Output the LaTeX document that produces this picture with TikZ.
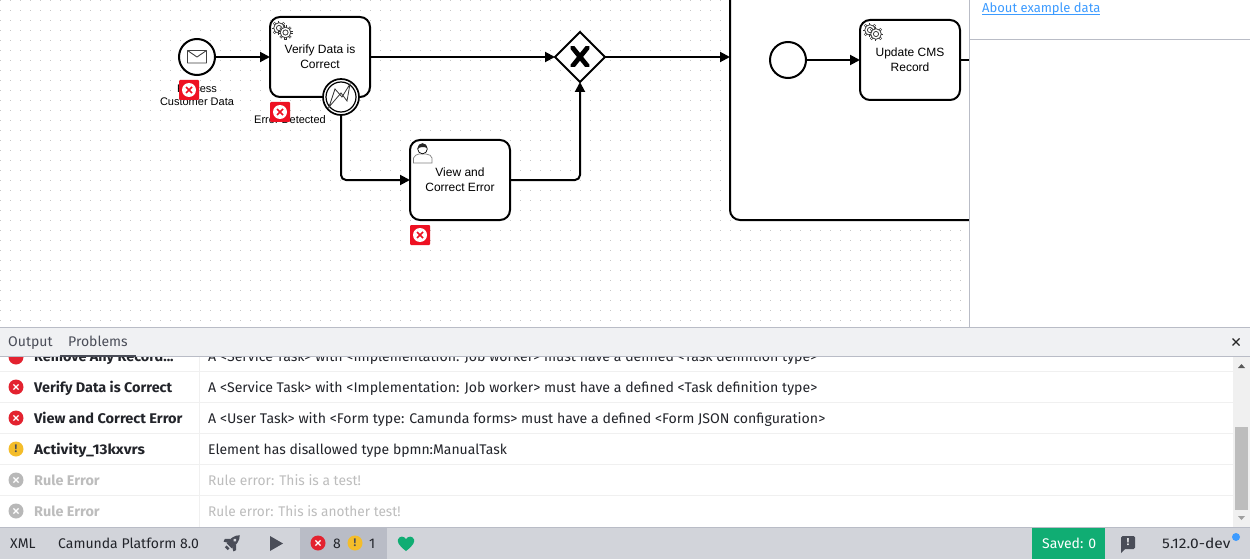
\documentclass[tikz,border=0pt]{standalone}
\usepackage{fontspec}
\setmainfont{Liberation Sans}
\newfontfamily\uifont{Fira Sans}
\usetikzlibrary{arrows.meta,shapes.geometric}
\definecolor{panelline}{HTML}{B9BCC6}
\definecolor{tabbg}{HTML}{F0F1F3}
\definecolor{statusbg}{HTML}{D2D4DA}
\definecolor{statusdark}{HTML}{B9BCC6}
\definecolor{uitext}{HTML}{22242A}
\definecolor{tabtext}{HTML}{4A4D58}
\definecolor{dimtext}{HTML}{BDBDBD}
\definecolor{sep}{HTML}{F0F0F0}
\definecolor{errred}{HTML}{E3222F}
\definecolor{badgered}{HTML}{EE1122}
\definecolor{warnyellow}{HTML}{F4BD2A}
\definecolor{savedgreen}{HTML}{10AD73}
\definecolor{linkblue}{HTML}{3C9BFF}
\newcommand\hs[2]{\scalebox{#1}[1]{#2}}
\newcommand\lift{\rule[-1.4pt]{0pt}{1.4pt}}
\tikzset{
  flow/.style={line width=2pt,-{Triangle[length=10pt,width=10pt]},rounded corners=5pt},
  plainflow/.style={line width=2pt},
  task/.style={draw=black,fill=white,line width=2pt,rounded corners=10pt,minimum width=100pt,minimum height=80pt,inner sep=0pt,outer sep=0pt,align=center,font=\fontsize{12}{15}\selectfont},
  bpmnevent/.style={draw=black,fill=white,line width=2pt,circle,minimum size=36pt,inner sep=0pt,outer sep=0pt},
  gatewaynode/.style={draw=black,fill=white,line width=2pt,diamond,aspect=1,minimum size=50pt,inner sep=0pt,outer sep=0pt},
  evlabel/.style={align=center,inner sep=0pt,font=\fontsize{11}{13}\selectfont},
  badge/.style={fill=badgered,minimum size=20pt,inner sep=0pt,outer sep=0pt,rounded corners=1pt},
  rowname/.style={anchor=base west,inner sep=0pt,font=\uifont\bfseries\fontsize{14}{16}\selectfont,text=uitext},
  rowmsg/.style={anchor=base west,inner sep=0pt,font=\uifont\fontsize{14}{16}\selectfont,text=uitext},
  dimname/.style={rowname,text=dimtext},
  dimmsg/.style={rowmsg,text=dimtext},
  statustext/.style={anchor=base west,inner sep=0pt,font=\uifont\fontsize{14}{16}\selectfont,text=uitext},
  tabtextstyle/.style={anchor=base west,inner sep=0pt,font=\uifont\fontsize{14}{16}\selectfont,text=tabtext},
  gearicon/.pic={
    \foreach \a in {0,45,...,315}{
      \draw[black!80,line width=2.3pt] (\a:4.5) -- (\a:7.4);
      \draw[white,line width=1pt] (\a:4.5) -- (\a:7);
    }
    \draw[fill=white,draw=black!80,line width=.75pt] (0,0) circle (5.3);
    \draw[fill=white,draw=black!80,line width=.75pt] (0,0) circle (2.6);
  },
  cross/.pic={
    \draw[white,line width=1.4pt] (-2.6,-2.6)--(2.6,2.6) (-2.6,2.6)--(2.6,-2.6);
  }
}
\begin{document}
\begin{tikzpicture}[x=1pt,y=-1pt]
\useasboundingbox (0,0) rectangle (1250,559);
\fill[white] (0,0) rectangle (1250,559);
% dot grid
\foreach \x in {0,10,...,960}{
  \foreach \y in {0,10,...,320}{
    \fill[black!22] (\x,\y) rectangle ++(1,1);
  }
}
% subprocess
\fill[white] (730,-5) rectangle (969,220);
\draw[line width=2pt,rounded corners=10pt] (730,-15) -- (730,220) -- (985,220);
% right panel
\fill[white] (969.5,0) rectangle (1250,327);
% nodes
\node[bpmnevent] (start) at (197,57) {};
\node[task] (verify) at (320,57) {Verify Data is\\Correct\lift};
\node[bpmnevent,line width=1.7pt] (boundary) at (341,97) {};
\draw[line width=1.2pt] (boundary) circle (15);
\draw[line width=.8pt,fill=white,draw=black!80] (329,107) -- (335,89) -- (342,97) -- (350,84) -- (347,101) -- (341,93) -- cycle;
\node[task] (view) at (460,180) {View and\\Correct Error\lift};
\node[gatewaynode] (gw) at (580,57) {};
\begin{scope}
  \clip (570.7,46.7) rectangle (589.3,67);
  \draw[line width=4.8pt] (566.7,40.4) -- (593.3,73.3) (593.3,40.4) -- (566.7,73.3);
\end{scope}
\node[bpmnevent] (substart) at (788,60) {};
\node[task] (update) at (910,60) {Update CMS\\Record\lift};
\coordinate (subleft) at (730,57);
\coordinate (updateout) at (969,60);
% connectors
\draw[flow] (start) -- (verify.west|-start);
\draw[flow] (verify.east|-gw) -- (gw.west);
\draw[flow] (boundary.south) |- (view.west);
\draw[flow] (view.east) -| (gw.south);
\draw[flow] (gw.east) -- (subleft);
\draw[flow] (substart) -- (update.west);
\draw[plainflow] (update.east) -- (updateout);
% icons
\pic at (279,28) {gearicon};
\pic at (285.5,32.5) {gearicon};
\pic at (870,30) {gearicon};
\pic at (876,34) {gearicon};
% envelope
\draw[line width=.9pt,draw=black!75,line join=round] (187.5,50.5) rectangle (206.5,63) (187.5,50.5) -- (197,57) -- (206.5,50.5);
% user
\draw[line width=.7pt,draw=black!50,fill=white] (413.5,163) -- (413.5,158) .. controls (414,155) and (417,155) .. (419,154) -- (426,154) .. controls (429,155) and (432,155) .. (432,158) -- (432,163) -- cycle;
\draw[line width=.7pt,fill=white] (422.5,149) circle (4.8);
\fill[black!85] (417.7,148) arc[start angle=180,end angle=360,radius=4.8] -- (427,148) .. controls (424,146.5) and (420,146.5) .. (417.7,149) -- cycle;
% labels
\node[evlabel] (startlabel) at (197,95) {Process\\Customer Data};
\node[evlabel] (bndlabel) at (290,119.7) {Error Detected};
% badges
\node[badge] (badge1) at (189,90) {};
\node[badge] (badge2) at (280,112) {};
\node[badge] (badge3) at (420,235) {};
\foreach \b in {badge1,badge2,badge3}{
  \fill[white] (\b) circle (7);
  \draw[badgered,line width=1.5pt] (\b) ++(-3,-3) -- ++(6,6) ++(-6,0) -- ++(6,-6);
}
% link in right panel
\node[anchor=base west,inner sep=0pt,font=\uifont\fontsize{13}{16}\selectfont,text=linkblue] (link) at (982,12.7) {\underbar{About example data}};
\draw[panelline,line width=1pt] (969.5,0) -- (969.5,327);
\draw[panelline,line width=1pt] (969.5,39.5) -- (1250,39.5);
% problems rows
\fill[white] (0,327) rectangle (1250,528);
\node[rowname] (r0) at (34,361.7) {\hs{1.03}{Remove Any Record...}};
\node[rowmsg] (m0) at (208,361.7) {\hs{1.008}{A <Service Task> with <Implementation: Job worker> must have a defined <Task definition type>}};
\fill[errred] (16,357) circle (7.5);
\node[rowname] (r1) at (34,392.7) {\hs{1.03}{Verify Data is Correct}};
\node[rowmsg] (m1) at (208,392.7) {\hs{1.008}{A <Service Task> with <Implementation: Job worker> must have a defined <Task definition type>}};
\node[rowname] (r2) at (34,423.7) {\hs{1.04}{View and Correct Error}};
\node[rowmsg] (m2) at (208,423.7) {\hs{1.01}{A <User Task> with <Form type: Camunda forms> must have a defined <Form JSON configuration>}};
\node[rowname] (r3) at (34,454.4) {\hs{1.09}{Activity\_13kxvrs}};
\node[rowmsg] (m3) at (208,454.4) {\hs{.997}{Element has disallowed type bpmn:ManualTask}};
\node[dimname] (r4) at (34,485.3) {\hs{1.03}{Rule Error}};
\node[dimmsg] (m4) at (208,485.3) {\hs{.987}{Rule error: This is a test!}};
\node[dimname] (r5) at (34,516.3) {\hs{1.03}{Rule Error}};
\node[dimmsg] (m5) at (208,516.3) {\hs{.975}{Rule error: This is another test!}};
\foreach \yy in {387,418}{
  \fill[errred] (16,\yy) circle (7.5);
  \pic at (16,\yy) {cross};
}
\fill[warnyellow] (16,449) circle (7.5);
\node[inner sep=0pt,font=\uifont\bfseries\fontsize{11}{11}\selectfont,text=tabtext] (w1) at (16,449) {!};
\foreach \yy in {480,511}{
  \fill[black!28] (16,\yy) circle (7.5);
  \pic at (16,\yy) {cross};
}
\foreach \yy in {371.5,402.5,433.5,464.5,495.5}{
  \draw[sep,line width=1pt] (0,\yy) -- (1233,\yy);
}
\draw[sep,line width=1pt] (199.5,357) -- (199.5,527);
% scrollbar
\fill[black!6] (1233,357) rectangle (1250,527);
\fill[black!26] (1235,427) rectangle (1248,510);
\fill[black!65] (1238,368) -- (1245,368) -- (1241.5,364) -- cycle;
\fill[black!38] (1238,516) -- (1245,516) -- (1241.5,520) -- cycle;
% tab bar
\fill[tabbg] (0,327) rectangle (1250,356);
\draw[panelline,line width=1pt] (0,327.5) -- (1250,327.5);
\draw[panelline,line width=1pt] (0,356.5) -- (1250,356.5);
\draw[tabtext,line width=2pt] (60,355.5) -- (136,355.5);
\node[tabtextstyle] (outtab) at (8,346.3) {Output};
\node[tabtextstyle] (probtab) at (68,346.3) {Problems};
\draw[black!85,line width=1.3pt] (1232.5,338.5) -- (1239.5,345.5) (1232.5,345.5) -- (1239.5,338.5);
% status bar
\fill[statusbg] (0,528) rectangle (1250,559);
\draw[panelline,line width=1pt] (0,527.5) -- (1250,527.5);
\fill[statusdark] (300,528) rectangle (387,559);
\fill[savedgreen] (1032,528) rectangle (1105,559);
\node[statustext] (xml) at (10,548.3) {XML};
\node[statustext] (platform) at (58,548.3) {Camunda Platform 8.0};
\begin{scope}[shift={(232,543)},rotate=-45]
  \fill[tabtext] (0,-11) .. controls (4,-7) and (4.5,-2) .. (3.5,4) -- (-3.5,4) .. controls (-4.5,-2) and (-4,-7) .. (0,-11) -- cycle;
  \fill[tabtext] (-3.8,-2) -- (-8,2) -- (-7,5) -- (-3.5,3) -- cycle;
  \fill[tabtext] (3.8,-2) -- (8,2) -- (7,5) -- (3.5,3) -- cycle;
  \fill[tabtext] (-2,5.5) rectangle (2,8);
  \fill[statusbg] (0,-4) circle (1.7);
\end{scope}
\fill[tabtext] (270,536) -- (283,543.5) -- (270,551) -- cycle;
\fill[errred] (318,543) circle (7.5);
\pic at (318,543) {cross};
\node[statustext] (n8) at (333,548.3) {8};
\fill[warnyellow] (355,543) circle (7.5);
\node[inner sep=0pt,font=\uifont\bfseries\fontsize{11}{11}\selectfont,text=tabtext] (w2) at (355,543) {!};
\node[statustext] (n1) at (369,548.3) {1};
\fill[savedgreen] (406,551) .. controls (398,545) and (397.5,542) .. (398,539.5) .. controls (399.5,535.5) and (404,536) .. (406,539) .. controls (408,536) and (412.5,535.5) .. (414,539.5) .. controls (414.5,542) and (414,545) .. (406,551) -- cycle;
\node[statustext,text=white] (saved) at (1042,548.3) {Saved: 0};
\fill[tabtext,rounded corners=1.5pt] (1121,536) rectangle (1135,549);
\fill[tabtext] (1121,546) -- (1121,553) -- (1126,548) -- cycle;
\node[inner sep=0pt,font=\uifont\bfseries\fontsize{10}{10}\selectfont,text=white] (fb) at (1128,542.5) {!};
\node[statustext] (ver) at (1162,548.3) {\hs{1.11}{5.12.0-dev}};
\fill[linkblue] (1236,537) circle (4);
\end{tikzpicture}
\end{document}
